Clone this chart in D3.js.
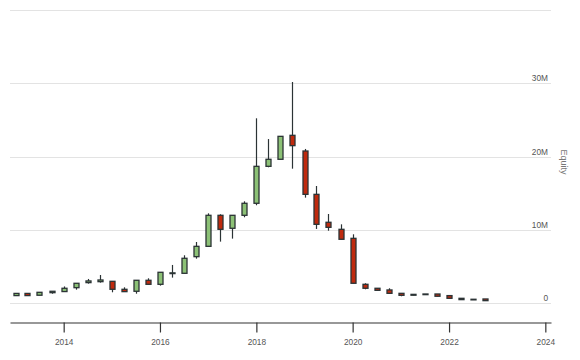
<!DOCTYPE html>
<html>
<head>
<meta charset="utf-8">
<script src="https://cdn.jsdelivr.net/npm/d3@7"></script>
<style>
html,body{margin:0;padding:0;background:#fff;}
svg{display:block;font-family:"Liberation Sans",Arial,sans-serif;}
</style>
</head>
<body>
<svg id="chart" width="580" height="360"></svg>
<script>
// Quarterly periods
const dates = [
  "2013-01-01","2013-04-01","2013-07-01","2013-10-01",
  "2014-01-01","2014-04-01","2014-07-01","2014-10-01",
  "2015-01-01","2015-04-01","2015-07-01","2015-10-01",
  "2016-01-01","2016-04-01","2016-07-01","2016-10-01",
  "2017-01-01","2017-04-01","2017-07-01","2017-10-01",
  "2018-01-01","2018-04-01","2018-07-01","2018-10-01",
  "2019-01-01","2019-04-01","2019-07-01","2019-10-01",
  "2020-01-01","2020-04-01","2020-07-01","2020-10-01",
  "2021-01-01","2021-04-01","2021-07-01","2021-10-01",
  "2022-01-01","2022-04-01","2022-07-01","2022-10-01"
];
// Equity, millions
const open  = [1.05,1.35,1.10,1.45,1.60,2.13,2.82,2.95,3.00,1.91,
               1.64,3.14,2.59,4.05,4.09,6.36,7.77,12.00,10.23,12.00,
               13.64,18.68,19.64,22.91,20.77,14.86,11.05,10.09,8.86,2.59,
               2.05,1.82,1.36,1.10,1.27,1.27,1.05,0.68,0.55,0.59];
const high  = [1.35,1.35,1.50,1.64,2.30,2.73,3.32,3.86,3.00,2.18,
               3.14,3.41,4.23,5.23,6.55,8.36,12.27,12.14,12.00,13.91,
               25.23,22.40,22.77,30.18,21.05,16.00,12.18,10.77,9.41,2.73,
               2.05,2.05,1.36,1.22,1.27,1.27,1.05,0.68,0.55,0.59];
const low   = [1.05,1.05,1.10,1.31,1.60,1.86,2.68,2.82,1.50,1.59,
               1.31,2.59,2.41,3.50,4.09,6.09,7.77,8.41,8.82,11.73,
               13.37,18.55,19.64,18.36,14.41,10.14,9.90,8.73,2.73,1.91,
               1.77,1.27,0.96,1.10,1.18,0.96,0.68,0.50,0.50,0.36];
const close = [1.35,1.05,1.50,1.64,2.05,2.73,3.05,3.18,1.91,1.59,
               3.14,2.59,4.23,4.15,6.14,7.77,12.00,10.09,12.00,13.64,
               18.68,19.64,22.77,21.50,14.86,10.77,10.36,8.73,2.73,2.05,
               1.77,1.36,1.09,1.22,1.18,0.96,0.68,0.50,0.50,0.36];

const gridValues = [0,10,20,30,40];
const yTickValues = [0,10,20,30];
const yTickLabels = ["0","10M","20M","30M"];
const xTickYears = [2014,2016,2018,2020,2022,2024];
const yLabel = "Equity";

const svg = d3.select("#chart");
const parse = d3.timeParse("%Y-%m-%d");
const data = dates.map((d,i)=>({date:parse(d),o:open[i],h:high[i],l:low[i],c:close[i]}));

const x = d3.scaleTime()
  .domain([new Date(2012,10,20), new Date(2024,1,13)])
  .range([10,551]);
const y = d3.scaleLinear().domain([0,40]).range([303.3,10]);

// gridlines
svg.append("g").selectAll("line").data(gridValues).join("line")
  .attr("x1",10).attr("x2",551)
  .attr("y1",d=>Math.round(y(d))+0.5).attr("y2",d=>Math.round(y(d))+0.5)
  .attr("stroke","#e3e3e3").attr("stroke-width",1);

// y labels
svg.append("g").selectAll("text").data(yTickValues).join("text")
  .attr("x",548).attr("y",d=>y(d)-2)
  .attr("text-anchor","end")
  .attr("font-size","8.3px").attr("fill","#555")
  .text((d,i)=>yTickLabels[i]);

svg.append("text")
  .attr("transform","translate(561,162) rotate(90)")
  .attr("text-anchor","middle")
  .attr("font-size","9px").attr("fill","#777")
  .text(yLabel);

// x axis
const xAxis = d3.axisBottom(x)
  .tickValues(xTickYears.map(yr=>new Date(yr,0,1)))
  .tickFormat(d3.timeFormat("%Y"))
  .tickSize(10).tickPadding(7).tickSizeOuter(0);
const gx = svg.append("g").attr("transform","translate(0,322.5)").call(xAxis);
gx.select(".domain").attr("stroke","#333").attr("stroke-width",1.2);
gx.selectAll(".tick line").attr("stroke","#333").attr("stroke-width",1.2);
gx.selectAll(".tick text").attr("fill","#555").attr("font-size","8.3px")
  .attr("font-family","'Liberation Sans',Arial,sans-serif");

// candles
const g = svg.append("g");
const bw = 5;
const cg = g.selectAll("g.c").data(data).join("g").attr("class","c");
cg.append("line")
  .attr("x1",d=>Math.round(x(d.date))+0.5).attr("x2",d=>Math.round(x(d.date))+0.5)
  .attr("y1",d=>y(d.h)).attr("y2",d=>y(d.l))
  .attr("stroke","#2b3335").attr("stroke-width",1.2);
cg.append("rect")
  .attr("x",d=>Math.round(x(d.date))+0.5-bw/2)
  .attr("width",bw)
  .attr("y",d=>y(Math.max(d.o,d.c)))
  .attr("height",d=>Math.max(0.6,Math.abs(y(d.o)-y(d.c))))
  .attr("fill",d=>d.c>=d.o?"#8cc176":"#bf2a0e")
  .attr("stroke","#2b3335").attr("stroke-width",1.3);
</script>
</body>
</html>
